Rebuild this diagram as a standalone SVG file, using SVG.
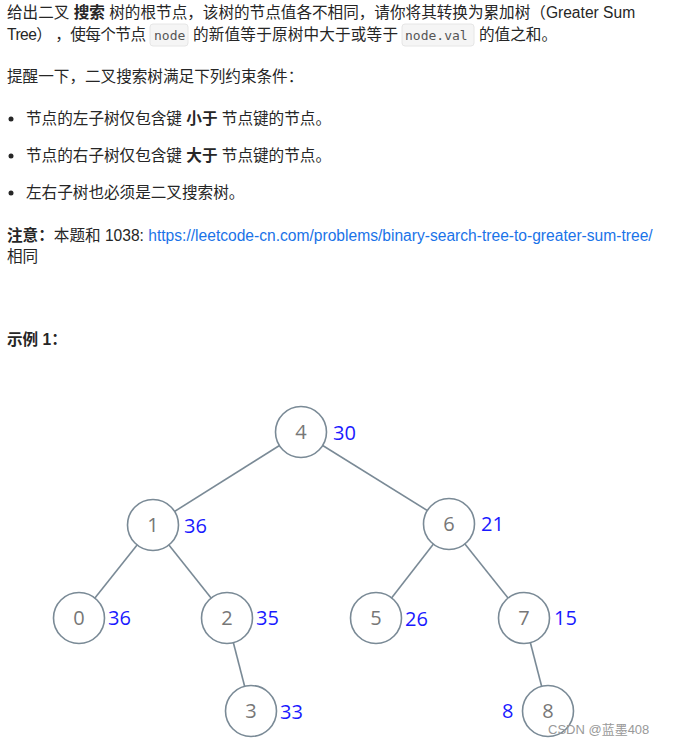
<svg xmlns="http://www.w3.org/2000/svg" width="675" height="745" viewBox="0 0 675 745">
<style>
.t{font-family:"Liberation Sans","Noto Sans CJK SC",sans-serif;font-size:15.6px;fill:#262626}
.b{font-weight:bold}
.code{font-family:"DejaVu Sans Mono",monospace;font-size:13px;fill:#555}
.cb{fill:#f5f5f5;stroke:#e6e6e6}
.n circle{fill:#fff;stroke:#7a8a96;stroke-width:1.6}
.n text{font-family:"Open Sans",sans-serif;font-size:20px;fill:#777;text-anchor:middle}
.v{font-family:"Open Sans",sans-serif;font-size:20px;fill:#1a1aff}
.e line{stroke:#7a8a96;stroke-width:1.6}
</style>
<rect width="675" height="745" fill="#fff"/>
<text class="t" x="7" y="18">给出二叉 <tspan class="b">搜索</tspan> 树的根节点，该树的节点值各不相同，请你将其转换为累加树（Greater Sum</text>
<text class="t" x="7" y="40" textLength="139">Tree） ，使每个节点</text>
<rect class="cb" x="150" y="24" width="38" height="22" rx="3"/>
<text class="code" x="154" y="40">node</text>
<text class="t" x="193" y="40" textLength="205">的新值等于原树中大于或等于</text>
<rect class="cb" x="402" y="24" width="72" height="22" rx="3"/>
<text class="code" x="405" y="40">node.val</text>
<text class="t" x="479" y="40">的值之和。</text>
<text class="t" x="7" y="82">提醒一下，二叉搜索树满足下列约束条件：</text>
<circle cx="11" cy="119" r="2.5" fill="#262626"/>
<text class="t" x="26" y="124">节点的左子树仅包含键 <tspan class="b">小于</tspan> 节点键的节点。</text>
<circle cx="11" cy="156" r="2.5" fill="#262626"/>
<text class="t" x="26" y="161">节点的右子树仅包含键 <tspan class="b">大于</tspan> 节点键的节点。</text>
<circle cx="11" cy="193" r="2.5" fill="#262626"/>
<text class="t" x="26" y="198">左右子树也必须是二叉搜索树。</text>
<text class="t" x="7" y="241"><tspan class="b">注意：</tspan>本题和 1038: <tspan fill="#1a73e8">https://leetcode-cn.com/problems/binary-search-tree-to-greater-sum-tree/</tspan></text>
<text class="t" x="7" y="262">相同</text>
<text class="t b" x="7" y="345">示例 1：</text>
<g class="e" id="edges">
<line x1="301" y1="432" x2="153" y2="525"/>
<line x1="301" y1="432" x2="449" y2="524"/>
<line x1="153" y1="525" x2="79" y2="618"/>
<line x1="153" y1="525" x2="227" y2="618"/>
<line x1="227" y1="618" x2="251" y2="711"/>
<line x1="449" y1="524" x2="376" y2="618"/>
<line x1="449" y1="524" x2="524" y2="618"/>
<line x1="524" y1="618" x2="548" y2="711"/>
</g>
<g class="n" id="n4"><circle cx="301" cy="432" r="25.5"/><text x="301" y="439">4</text></g>
<g class="n" id="n1"><circle cx="153" cy="525" r="25.5"/><text x="153" y="532">1</text></g>
<g class="n" id="n6"><circle cx="449" cy="524" r="25.5"/><text x="449" y="531">6</text></g>
<g class="n" id="n0"><circle cx="79" cy="618" r="25.5"/><text x="79" y="625">0</text></g>
<g class="n" id="n2"><circle cx="227" cy="618" r="25.5"/><text x="227" y="625">2</text></g>
<g class="n" id="n5"><circle cx="376" cy="618" r="25.5"/><text x="376" y="625">5</text></g>
<g class="n" id="n7"><circle cx="524" cy="618" r="25.5"/><text x="524" y="625">7</text></g>
<g class="n" id="n3"><circle cx="251" cy="711" r="25.5"/><text x="251" y="718">3</text></g>
<g class="n" id="n8"><circle cx="548" cy="711" r="25.5"/><text x="548" y="718">8</text></g>
<g id="sums">
<text class="v" x="333" y="440">30</text>
<text class="v" x="184" y="533">36</text>
<text class="v" x="481" y="531">21</text>
<text class="v" x="108" y="625">36</text>
<text class="v" x="256" y="625">35</text>
<text class="v" x="405" y="626">26</text>
<text class="v" x="554" y="625">15</text>
<text class="v" x="280" y="719">33</text>
<text class="v" x="502" y="718">8</text>
</g>
<text x="548" y="734" font-family="'Liberation Sans','Noto Sans CJK SC',sans-serif" font-size="13" fill="#999">CSDN @蓝墨408</text>
</svg>
